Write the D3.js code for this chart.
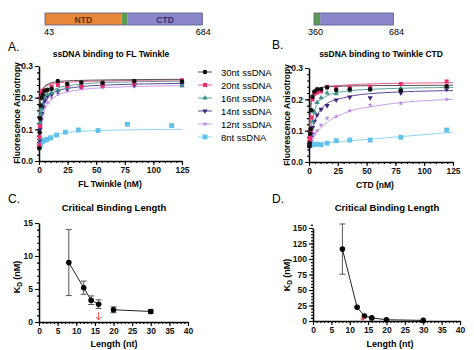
<!DOCTYPE html>
<html>
<head>
<meta charset="utf-8">
<script src="https://cdn.jsdelivr.net/npm/d3@7"></script>
<style>
  body { margin: 0; background: #fff; }
  svg { font-family: "Liberation Sans", Arial, sans-serif; }
</style>
</head>
<body>
<script>
// ---- data ----
// series names and colours
const series = ["30nt ssDNA", "20nt ssDNA", "16nt ssDNA", "14nt ssDNA", "12nt ssDNA", "8nt ssDNA"];

// Panel A: FL Twinkle titration (nM) -> anisotropy
const concA  = [0.3, 0.6, 1, 1.5, 2.2, 3.3, 4.9, 7.3, 11, 16.5, 24.7, 37, 55.6, 83.3, 125];
const concA8 = [0.6, 0.9, 1.3, 2, 3, 4.5, 6.8, 10.2, 15.3, 23, 34.4, 51.6, 77.3, 116];
const a30 = [0.04, 0.09, 0.135, 0.175, 0.2, 0.21, 0.222, 0.225, 0.228, 0.253, 0.243, 0.248, 0.247, 0.253, 0.251];
const a20 = [0.05, 0.075, 0.11, 0.2, 0.218, 0.222, 0.222, 0.224, 0.235, 0.24, 0.237, 0.235, 0.238, 0.245, 0.255];
const a16 = [0.045, 0.07, 0.12, 0.15, 0.165, 0.18, 0.2, 0.21, 0.215, 0.222, 0.232, 0.238, 0.24, 0.245, 0.238];
const a14 = [0.04, 0.065, 0.1, 0.13, 0.15, 0.17, 0.19, 0.205, 0.21, 0.22, 0.228, 0.235, 0.24, 0.24, 0.242];
const a12 = [0.04, 0.06, 0.09, 0.11, 0.13, 0.15, 0.17, 0.185, 0.2, 0.212, 0.222, 0.228, 0.232, 0.235, 0.237];
const a8  = [0.045, 0.05, 0.055, 0.06, 0.062, 0.065, 0.068, 0.073, 0.082, 0.091, 0.098, 0.096, 0.116, 0.112];

// Panel B: CTD titration
const concB = [0.4, 0.6, 0.9, 1.4, 2.1, 3.1, 4.7, 7, 10.5, 15.7, 23.6, 35.4, 53.1, 79.7, 119.5];
const b30 = [0.05, 0.06, 0.09, 0.105, 0.165, 0.208, 0.225, 0.232, 0.232, 0.238, 0.23, 0.232, 0.232, 0.228, 0.242];
const b20 = [0.06, 0.07, 0.08, 0.1, 0.142, 0.2, 0.218, 0.222, 0.225, 0.24, 0.235, 0.238, 0.24, 0.249, 0.257];
const b16 = [0.05, 0.06, 0.07, 0.09, 0.105, 0.13, 0.16, 0.19, 0.205, 0.22, 0.218, 0.227, 0.23, 0.235, 0.238];
const b14 = [0.05, 0.055, 0.065, 0.08, 0.09, 0.11, 0.13, 0.15, 0.168, 0.18, 0.198, 0.207, 0.205, 0.22, 0.232];
const b12 = [0.05, 0.055, 0.06, 0.065, 0.07, 0.08, 0.09, 0.1, 0.118, 0.14, 0.145, 0.164, 0.182, 0.187, 0.2];
const b8  = [0.052, 0.054, 0.055, 0.056, 0.054, 0.057, 0.056, 0.057, 0.055, 0.06, 0.068, 0.07, 0.07, 0.079, 0.102];

// fitted curves
const fitX = [0, 0.5, 1, 2, 4, 8, 15, 30, 60, 125];
const fA30 = [0.03, 0.12, 0.17, 0.21, 0.23, 0.243, 0.25, 0.254, 0.256, 0.258];
const fA20 = [0.04, 0.15, 0.2, 0.22, 0.232, 0.24, 0.246, 0.25, 0.253, 0.256];
const fA16 = [0.04, 0.075, 0.1, 0.14, 0.18, 0.21, 0.228, 0.24, 0.248, 0.252];
const fA14 = [0.04, 0.065, 0.09, 0.13, 0.17, 0.2, 0.22, 0.232, 0.24, 0.245];
const fA12 = [0.04, 0.06, 0.08, 0.11, 0.15, 0.18, 0.205, 0.222, 0.232, 0.238];
const fA8  = [0.05, 0.054, 0.058, 0.063, 0.069, 0.076, 0.084, 0.092, 0.097, 0.1];
const fB30 = [0.05, 0.12, 0.16, 0.2, 0.225, 0.235, 0.24, 0.242, 0.244, 0.245];
const fB20 = [0.05, 0.1, 0.13, 0.18, 0.215, 0.232, 0.24, 0.245, 0.25, 0.253];
const fB16 = [0.05, 0.065, 0.08, 0.11, 0.15, 0.19, 0.21, 0.225, 0.233, 0.238];
const fB14 = [0.05, 0.06, 0.07, 0.09, 0.12, 0.155, 0.185, 0.205, 0.22, 0.228];
const fB12 = [0.05, 0.054, 0.058, 0.066, 0.08, 0.1, 0.125, 0.155, 0.18, 0.2];
const fB8  = [0.055, 0.0553, 0.0556, 0.056, 0.057, 0.059, 0.061, 0.066, 0.075, 0.095];

// Panels C/D: KD vs length
const lengths = [8, 12, 14, 16, 20, 30];
const kdC  = [9.0, 5.2, 3.3, 2.7, 1.85, 1.6];
const errC = [5.0, 1.0, 0.65, 0.65, 0.45, 0.3];
const segC = [0, 0, 0, 0, 1, 1];
const kdD  = [116, 22, 8, 5, 2, 1];
const errD = [40.5, 0, 0, 0, 0, 0];

// domain maps (residues)
const domA = [["NTD", 43, 355], ["", 355, 380], ["CTD", 380, 684]];
const domB = [["", 360, 385], ["", 385, 684]];

const colors = ["#111111", "#ee2b6c", "#3c8f8c", "#3f2383", "#bd84e6", "#62c2ec"];
const fitColors = ["#555555", "#ee5b8a", "#5aa3a0", "#5e4a96", "#c9a0ec", "#93d6f1"];

const W = 474, H = 350;
const svg = d3.select("body").append("svg").attr("width", W).attr("height", H);

// ---- domain bars ----
function domainBar(doms, x0, lab) {
  const xs = d3.scaleLinear().domain([doms[0][1], 684]).range([x0, x0 + (684 - doms[0][1]) * 0.2455]);
  const fills = { NTD: "#e8873a", "": "#5d9b52", CTD: "#8b86c9" };
  doms.forEach((d, i) => {
    let f = d[0] === "" && i === doms.length - 1 ? "#8b86c9" : fills[d[0]];
    svg.append("rect").attr("x", xs(d[1])).attr("y", 13).attr("width", xs(d[2]) - xs(d[1]))
      .attr("height", 12).attr("fill", f);
    if (d[0]) svg.append("text").attr("x", (xs(d[1]) + xs(d[2])) / 2).attr("y", 22.5)
      .attr("text-anchor", "middle").attr("font-size", 8.5).attr("font-weight", "bold")
      .attr("fill", d[0] === "NTD" ? "#5b3312" : "#2e2f6a").text(d[0]);
  });
  svg.append("rect").attr("x", xs.range()[0]).attr("y", 13).attr("width", xs.range()[1] - xs.range()[0])
    .attr("height", 12).attr("fill", "none").attr("stroke", "#555a8a").attr("stroke-width", 0.8);
  svg.append("text").attr("x", xs.range()[0] + lab[0]).attr("y", 35).attr("font-size", 9).text(doms[0][1]);
  svg.append("text").attr("x", xs.range()[1] + lab[1]).attr("y", 35).attr("font-size", 9)
    .attr("text-anchor", "middle").text("684");
}
domainBar(domA, 45, [-1, 1]);
domainBar(domB, 314, [-6, 3]);

// ---- axis helper ----
function axes(x, y, xt, xm, yt, ym, yfmt) {
  const y0 = y.range()[0], x0 = x.range()[0];
  svg.append("g").attr("transform", `translate(0,${y0})`)
    .call(d3.axisBottom(x).tickValues(xm).tickSize(2).tickFormat("").tickSizeOuter(0))
    .call(g => g.select(".domain").remove());
  svg.append("g").attr("transform", `translate(${x0},0)`)
    .call(d3.axisLeft(y).tickValues(ym).tickSize(2).tickFormat("").tickSizeOuter(0))
    .call(g => g.select(".domain").remove());
  const gx = svg.append("g").attr("transform", `translate(0,${y0})`)
    .call(d3.axisBottom(x).tickValues(xt).tickSize(4).tickPadding(2).tickSizeOuter(0));
  const gy = svg.append("g").attr("transform", `translate(${x0},0)`)
    .call(d3.axisLeft(y).tickValues(yt).tickSize(4).tickPadding(2).tickSizeOuter(0).tickFormat(yfmt));
  [gx, gy].forEach(g => {
    g.selectAll("text").attr("font-size", 8.5).attr("font-weight", "bold").attr("fill", "#111")
      .attr("font-family", "Liberation Sans, Arial, sans-serif");
    g.select(".domain").attr("stroke-width", 1.5);
  });
  svg.selectAll(".tick line").attr("stroke-width", 1.1);
}

function label(x, y, t, size, opts = {}) {
  const el = svg.append("text").attr("x", x).attr("y", y).attr("font-size", size)
    .attr("text-anchor", opts.anchor || "middle").attr("font-weight", opts.bold === false ? "normal" : "bold");
  if (opts.rot) el.attr("transform", `rotate(-90,${x},${y})`);
  el.text(t);
  return el;
}

const symbols = [d3.symbolCircle, d3.symbolSquare, d3.symbolTriangle, d3.symbolTriangle, d3.symbolStar, d3.symbolSquare];
const symSize = [16, 16, 12, 12, 8, 24];
const symRot = [0, 0, 0, 180, 0, 0];

function bindingPanel(x, y, concs, vals, fits) {
  const line = d3.line().x((d, i) => x(fitX[i])).y(d => y(d)).curve(d3.curveMonotoneX);
  // draw 8nt first, 30nt last
  for (let s = series.length - 1; s >= 0; s--) {
    svg.append("path").attr("d", line(fits[s])).attr("fill", "none")
      .attr("stroke", fitColors[s]).attr("stroke-width", 1);
  }
  for (let s = series.length - 1; s >= 0; s--) {
    const sym = d3.symbol(symbols[s], symSize[s]);
    svg.append("g").selectAll("path").data(vals[s]).join("path")
      .attr("transform", (d, i) => `translate(${x(concs[s][i])},${y(d)}) rotate(${symRot[s]})`)
      .attr("d", sym).attr("fill", colors[s]);
  }
}

// ---- panel A ----
const xA = d3.scaleLinear().domain([0, 125]).range([39, 182]);
const yA = d3.scaleLinear().domain([0, 0.3]).range([161, 66]);
axes(xA, yA, [0, 25, 50, 75, 100, 125], d3.range(0, 126, 5), [0, 0.1, 0.2, 0.3], d3.range(0, 0.301, 0.02), d3.format(".1f"));
bindingPanel(xA, yA, [concA, concA, concA, concA, concA, concA8], [a30, a20, a16, a14, a12, a8],
  [fA30, fA20, fA16, fA14, fA12, fA8]);
label(8, 51, "A.", 12, { anchor: "start", bold: false });
label(111, 57, "ssDNA binding to FL Twinkle", 8.5);
label(110, 187, "FL Twinkle (nM)", 8.5);
label(20, 113, "Fluorescence Anisotropy", 8.5, { rot: true });

// ---- panel B ----
const xB = d3.scaleLinear().domain([0, 125]).range([309, 453]);
const yB = d3.scaleLinear().domain([0, 0.3]).range([162, 68]);
axes(xB, yB, [0, 25, 50, 75, 100, 125], d3.range(0, 126, 5), [0, 0.1, 0.2, 0.3], d3.range(0, 0.301, 0.02), d3.format(".1f"));
bindingPanel(xB, yB, [concB, concB, concB, concB, concB, concB], [b30, b20, b16, b14, b12, b8],
  [fB30, fB20, fB16, fB14, fB12, fB8]);
label(272, 49, "B.", 12, { anchor: "start", bold: false });
label(381, 57, "ssDNA binding to Twinkle CTD", 8.5);
label(375, 188, "CTD (nM)", 8.5);
label(290, 115, "Fluorescence Anisotropy", 8.5, { rot: true });

// ---- legend ----
series.forEach((s, i) => {
  const ly = 72 + i * 13;
  svg.append("line").attr("x1", 198).attr("x2", 212).attr("y1", ly).attr("y2", ly)
    .attr("stroke", fitColors[i]).attr("stroke-width", 1);
  svg.append("path").attr("d", d3.symbol(symbols[i], symSize[i])())
    .attr("transform", `translate(205,${ly}) rotate(${symRot[i]})`).attr("fill", colors[i]);
  svg.append("text").attr("x", 221).attr("y", ly + 3.5).attr("font-size", 9.5).text(s);
});

// ---- panel C / D ----
function kdPanel(x, y, kd, err, seg) {
  const pts = lengths.map((l, i) => ({ l, v: kd[i], e: err[i], g: seg ? seg[i] : 0 }));
  d3.groups(pts, d => d.g).forEach(([, grp]) => {
    svg.append("path").attr("d", d3.line().x(d => x(d.l)).y(d => y(d.v))(grp))
      .attr("fill", "none").attr("stroke", "#222").attr("stroke-width", 1);
  });
  const eb = svg.append("g").attr("stroke", "#555").attr("stroke-width", 1);
  pts.filter(d => d.e > 0).forEach(d => {
    eb.append("line").attr("x1", x(d.l)).attr("x2", x(d.l)).attr("y1", y(d.v - d.e)).attr("y2", y(d.v + d.e));
    [d.v - d.e, d.v + d.e].forEach(v => eb.append("line").attr("x1", x(d.l) - 3).attr("x2", x(d.l) + 3)
      .attr("y1", y(v)).attr("y2", y(v)));
  });
  svg.append("g").selectAll("circle").data(pts).join("circle")
    .attr("cx", d => x(d.l)).attr("cy", d => y(d.v)).attr("r", 2.8).attr("fill", "#000");
}

function redArrow(x, y, at, from, to) {
  const g = svg.append("g").attr("stroke", "#e0504a").attr("stroke-width", 1).attr("fill", "none");
  g.append("line").attr("x1", x(at)).attr("x2", x(at)).attr("y1", y(from)).attr("y2", y(to));
  g.append("path").attr("d", `M${x(at) - 2.5},${y(to) - 3}L${x(at)},${y(to)}L${x(at) + 2.5},${y(to) - 3}`);
}

const xC = d3.scaleLinear().domain([0, 40]).range([39, 188]);
const yC = d3.scaleLinear().domain([0, 15]).range([322, 223]);
axes(xC, yC, d3.range(0, 41, 5), d3.range(0, 41, 1), [0, 5, 10, 15], d3.range(0, 15.1, 1), d3.format("d"));
kdPanel(xC, yC, kdC, errC, segC);
redArrow(xC, yC, 16, 1.5, 0.3);
label(8, 203, "C.", 12, { anchor: "start", bold: false });
label(114, 211, "Critical Binding Length", 9.5);
label(114, 347, "Length (nt)", 9);
const kc = label(20, 277, "K", 9, { rot: true });
kc.append("tspan").attr("font-size", 6.5).attr("dy", 2).text("D");
kc.append("tspan").attr("dy", -2).text(" (nM)");

const xD = d3.scaleLinear().domain([0, 40]).range([313, 460]);
const yD = d3.scaleLinear().domain([0, 150]).range([321, 228]);
axes(xD, yD, d3.range(0, 41, 5), d3.range(0, 41, 1), d3.range(0, 151, 25), d3.range(0, 160, 5), d3.format("d"));
kdPanel(xD, yD, kdD, errD, null);
redArrow(xD, yD, 13.5, 6, 0.5);
label(272, 203, "D.", 12, { anchor: "start", bold: false });
label(387, 211, "Critical Binding Length", 9.5);
label(390, 347, "Length (nt)", 9);
const kd2 = label(290, 275, "K", 9, { rot: true });
kd2.append("tspan").attr("font-size", 6.5).attr("dy", 2).text("D");
kd2.append("tspan").attr("dy", -2).text(" (nM)");
</script>
</body>
</html>
